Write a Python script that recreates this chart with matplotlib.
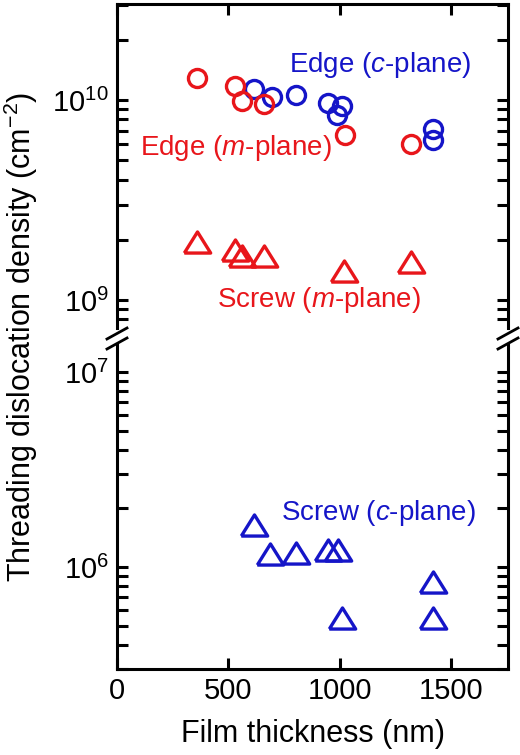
import matplotlib
matplotlib.use("Agg")
import matplotlib.pyplot as plt
import matplotlib.ticker as mticker
from matplotlib.lines import Line2D
import numpy as np

plt.rcParams['font.family'] = ['Liberation Sans', 'DejaVu Sans']
plt.rcParams['mathtext.fontset'] = 'custom'
plt.rcParams['mathtext.rm'] = 'Liberation Sans'
plt.rcParams['mathtext.it'] = 'Liberation Sans:italic'
plt.rcParams['mathtext.default'] = 'regular'

RED = '#e8161b'
BLUE = '#1515c8'

# edge dislocations (circles)
edge_m_x = [358, 530, 560, 660, 1024, 1321]
edge_m_y = [1.29e10, 1.18e10, 0.99e10, 0.96e10, 6.7e9, 6.05e9]
edge_c_x = [617, 695, 804, 946, 1012, 987, 1418, 1421]
edge_c_y = [1.14e10, 1.03e10, 1.06e10, 0.97e10, 0.93e10, 0.84e10, 7.2e9, 6.3e9]

# screw dislocations (triangles)
screw_m_x = [358, 530, 560, 660, 1021, 1321]
screw_m_y = [1.94e9, 1.78e9, 1.66e9, 1.66e9, 1.39e9, 1.55e9]
screw_c_x = [617, 687, 804, 946, 994, 1012, 1418, 1421]
screw_c_y = [1.64e6, 1.16e6, 1.18e6, 1.23e6, 1.23e6, 5.5e5, 8.35e5, 5.5e5]

xticks = [0, 500, 1000, 1500]

fig = plt.figure(figsize=(5.2, 7.55), dpi=100)
ax1 = fig.add_axes([0.225, 0.5656, 0.752, 0.429])
ax2 = fig.add_axes([0.225, 0.1139, 0.752, 0.429])

tri = [(-1, -0.8), (1, -0.8), (0, 0.8), (-1, -0.8)]
circ_kw = dict(ls='none', marker='o', ms=13, mew=2.4, mfc='none')
tri_kw = dict(ls='none', marker=tri, ms=19, mew=2.4, mfc='none')

ax1.plot(edge_c_x, edge_c_y, mec=BLUE, **circ_kw)
ax1.plot(edge_m_x, edge_m_y, mec=RED, **circ_kw)
ax1.plot(screw_m_x, screw_m_y, mec=RED, **tri_kw)
ax2.plot(screw_c_x, screw_c_y, mec=BLUE, **tri_kw)

ax1.set_yscale('log')
ax2.set_yscale('log')
ax1.set_ylim(7.24e8, 3.02e10)
ax2.set_ylim(3.0e5, 1.375e7)
for ax in (ax1, ax2):
    ax.set_xlim(0, 1756)
    ax.set_xticks(xticks)
    ax.yaxis.set_major_locator(mticker.LogLocator(base=10, numticks=10))
    ax.yaxis.set_minor_locator(mticker.LogLocator(base=10, subs=np.arange(2, 10), numticks=10))
    ax.yaxis.set_major_formatter(mticker.LogFormatterMathtext())
    ax.yaxis.set_minor_formatter(mticker.NullFormatter())
    ax.tick_params(which='both', direction='in', length=8, width=2.2,
                   left=True, right=True, labelsize=21, pad=6)
    for s in ax.spines.values():
        s.set_linewidth(2.2)

ax1.spines['bottom'].set_visible(False)
ax2.spines['top'].set_visible(False)
ax1.tick_params(axis='x', which='both', top=True, bottom=False, labelbottom=False)
ax2.tick_params(axis='x', which='both', top=False, bottom=True)
ax2.set_xlabel('Film thickness (nm)', fontsize=22, labelpad=10)
fig.text(0.04, 0.554, 'Threading dislocation density (cm$^{-2}$)',
         rotation=90, ha='center', va='center', fontsize=22)

ax1.text(1181, 1.5e10, 'Edge ($\\mathit{c}$-plane)', color=BLUE, fontsize=20, ha='center', va='center')
ax1.text(535, 5.75e9, 'Edge ($\\mathit{m}$-plane)', color=RED, fontsize=20, ha='center', va='center')
ax1.text(907, 1.0e9, 'Screw ($\\mathit{m}$-plane)', color=RED, fontsize=20, ha='center', va='center')
ax2.text(1175, 1.89e6, 'Screw ($\\mathit{c}$-plane)', color=BLUE, fontsize=20, ha='center', va='center')

# break marks
W, H = 520.0, 755.0
for px in (117, 508):
    for py in (334, 344):
        fig.add_artist(Line2D([(px - 10) / W, (px + 10) / W],
                              [1 - (py + 5) / H, 1 - (py - 6) / H],
                              color='black', lw=2.0))

fig.savefig('out.png', dpi=100)
